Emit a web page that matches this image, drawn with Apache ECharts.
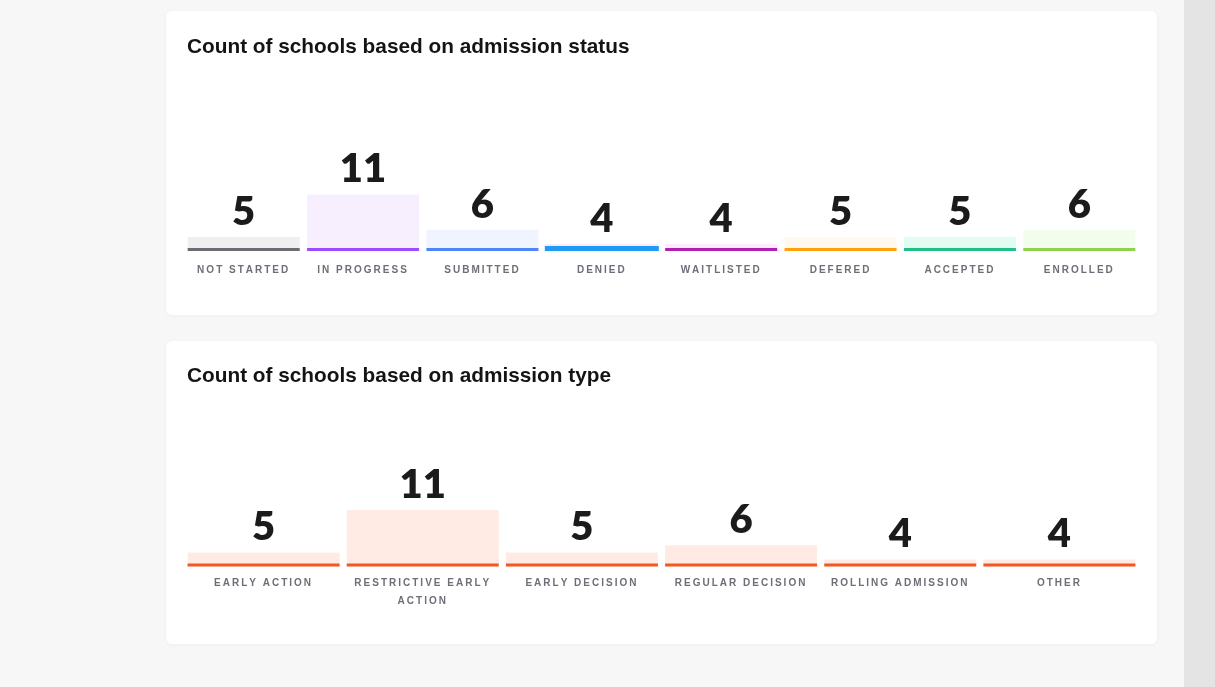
<!DOCTYPE html>
<html>
<head>
<meta charset="utf-8">
<title>Admission counts</title>
<script src="https://cdn.jsdelivr.net/npm/echarts@6/dist/echarts.min.js"></script>
<style>
html, body {
  margin: 0;
  padding: 0;
  width: 1215px;
  height: 687px;
  overflow: hidden;
  background: #f7f7f7;
}
.card {
  position: absolute;
  left: 166px;
  width: 991px;
  background: #fff;
  border-radius: 6px;
  box-shadow: 0 1px 4px rgba(0, 0, 0, 0.04);
}
#card1 { top: 11px; height: 304px; }
#card2 { top: 341px; height: 303px; }
.chart-box { width: 100%; height: 100%; }
.rail {
  position: absolute;
  left: 1184px;
  top: 0;
  width: 31px;
  height: 687px;
  background: #e4e4e4;
}
</style>
</head>
<body>
<div class="card" id="card1"><div class="chart-box" id="statusChart"></div></div>
<div class="card" id="card2"><div class="chart-box" id="typeChart"></div></div>
<div class="rail"></div>

<script>
// data
const statusCategories = ['NOT STARTED', 'IN PROGRESS', 'SUBMITTED', 'DENIED', 'WAITLISTED', 'DEFERED', 'ACCEPTED', 'ENROLLED'];
const statusCounts = [5, 11, 6, 4, 4, 5, 5, 6];

const typeCategories = ['EARLY ACTION', 'RESTRICTIVE EARLY ACTION', 'EARLY DECISION', 'REGULAR DECISION', 'ROLLING ADMISSION', 'OTHER'];
const typeCounts = [5, 11, 5, 6, 4, 4];

// colours
const statusLineColors = ['#6b6b73', '#9a4dff', '#4f86f7', '#1e9bf5', '#b01fb3', '#ff9f0a', '#1fbf86', '#8fd14f'];
const statusFillColors = ['#efefef', '#f7effe', '#f0f4fe', '#fde9f8', '#fdebfb', '#fff8ee', '#e0fcf3', '#f3fdec'];
const typeLineColor = '#f05a22';
const typeFillColor = '#ffebe3';

// spread letters out (canvas text has no letter-spacing), trailing gap like css letter-spacing
const spaced = (s) => s.split('').join('\u2009') + '\u2009';

const wrapWords = (s, maxChars) => {
  const lines = [];
  let cur = '';
  s.split(' ').forEach((w) => {
    if (cur && (cur + ' ' + w).length > maxChars) {
      lines.push(cur);
      cur = w;
    } else {
      cur = cur ? cur + ' ' + w : w;
    }
  });
  lines.push(cur);
  return lines.map(spaced).join('\n');
};

const buildOption = (cfg) => ({
  animation: false,
  title: {
    text: cfg.title,
    left: 21,
    top: cfg.titleTop,
    padding: 0,
    textStyle: {
      fontFamily: 'Liberation Sans',
      fontSize: 20.8,
      fontWeight: 'bold',
      lineHeight: 22,
      color: '#141414'
    }
  },
  grid: { left: 18, right: 18, top: cfg.gridTop, bottom: cfg.gridBottom, containLabel: false },
  xAxis: {
    type: 'category',
    data: cfg.categories,
    axisLine: { show: false },
    axisTick: { show: false },
    axisLabel: {
      interval: 0,
      margin: cfg.labelMargin,
      fontFamily: 'Liberation Sans',
      fontSize: 10,
      fontWeight: 'bold',
      lineHeight: 18,
      color: '#6e6e78',
      formatter: (v) => wrapWords(v, 18)
    }
  },
  yAxis: [
    { type: 'value', min: 3, max: 11, show: false },
    // second axis starting at zero, so the underline sits on the grid bottom
    { type: 'value', min: 0, show: false }
  ],
  series: [
    {
      type: 'bar',
      barWidth: cfg.barWidth,
      z: 1,
      data: cfg.values.map((v, i) => ({ value: v, itemStyle: { color: cfg.fill(i) } })),
      label: {
        show: true,
        position: 'top',
        distance: 5,
        fontFamily: 'Lato',
        fontSize: 40,
        fontWeight: 800,
        lineHeight: 40,
        color: '#1b1b1b'
      }
    },
    {
      type: 'pictorialBar',
      yAxisIndex: 1,
      symbol: 'rect',
      symbolPosition: 'start',
      symbolSize: [cfg.barWidth, 3],
      barGap: '-100%',
      z: 3,
      silent: true,
      data: cfg.values.map((v, i) => {
        const item = { value: v, itemStyle: { color: cfg.line(i) } };
        if (cfg.thick && cfg.thick[i]) item.symbolSize = [cfg.barWidth + 2, 5];
        return item;
      })
    }
  ]
});

const statusChart = echarts.init(document.getElementById('statusChart'));
statusChart.setOption(buildOption({
  title: 'Count of schools based on admission status',
  titleTop: 25,
  categories: statusCategories,
  values: statusCounts,
  fill: (i) => statusFillColors[i],
  line: (i) => statusLineColors[i],
  thick: statusCategories.map((c) => c === 'DENIED'),
  barWidth: 112,
  gridTop: 183.5,
  gridBottom: 64,
  labelMargin: 10.5
}));

const typeChart = echarts.init(document.getElementById('typeChart'));
typeChart.setOption(buildOption({
  title: 'Count of schools based on admission type',
  titleTop: 24,
  categories: typeCategories,
  values: typeCounts,
  fill: () => typeFillColor,
  line: () => typeLineColor,
  barWidth: 152,
  gridTop: 169,
  gridBottom: 77.5,
  labelMargin: 7.5
}));
</script>
</body>
</html>
